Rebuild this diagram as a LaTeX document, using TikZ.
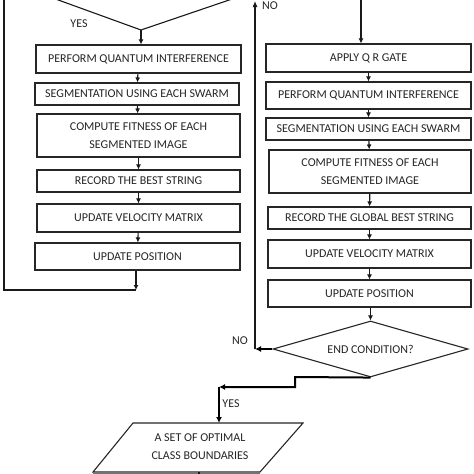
\documentclass[tikz,border=0pt]{standalone}
\usepackage{fontspec}
\setmainfont{Carlito}
\usetikzlibrary{arrows.meta,shapes.geometric}
\begin{document}
\begin{tikzpicture}[x=1pt,y=-1pt,
  box/.style={draw=black!85, line width=1.1pt, inner sep=0pt, text=black!85,
    font=\fontsize{12}{18}\selectfont, align=center},
  lab/.style={text=black!85, font=\fontsize{12}{14}\selectfont, inner sep=0pt},
  ln/.style={line width=1.1pt, draw=black!90},
  arr/.style={ln, -{Latex[length=5pt,width=5pt]}},
  heavyarr/.style={line width=2pt, draw=black, -{Latex[length=6pt,width=6pt]}},
  heavyln/.style={line width=2pt, draw=black}]
\useasboundingbox (0,0) rectangle (474,474);
\clip (0,0) rectangle (474,474);
\fill[white] (0,0) rectangle (474,474);

% top decision (cut off)
\coordinate (dtop) at (141,30);
\draw[ln] (50,-3) -- (dtop) -- (238,-3);
\node[lab] (yes1) at (79,24) {YES};

% left column
\node[box, minimum width=205pt, minimum height=28pt] (l1) at (138.5,59) {PERFORM QUANTUM INTERFERENCE};
\node[box, minimum width=204pt, minimum height=22pt] (l2) at (137,94) {SEGMENTATION USING EACH SWARM};
\node[box, minimum width=203pt, minimum height=43pt] (l3) at (138.5,135.5) {COMPUTE FITNESS OF EACH\\SEGMENTED IMAGE};
\node[box, minimum width=203pt, minimum height=22pt] (l4) at (138.5,181) {RECORD THE BEST STRING};
\node[box, minimum width=203pt, minimum height=28pt] (l5) at (138.5,218) {UPDATE VELOCITY MATRIX};
\node[box, minimum width=205pt, minimum height=27pt] (l6) at (137.5,256.5) {UPDATE POSITION};

\draw[arr] (dtop) -- (dtop |- l1.north);
\draw[arr] (l1) -- (l2);
\draw[arr] (l2) -- (l3);
\draw[arr] (l3) -- (l4);
\draw[arr] (l4) -- (l5);
\draw[arr] (l5) -- (l6);
\coordinate (jl) at (136,290);
\coordinate (cl) at (4,290);
\coordinate (tl) at (4,-5);
\draw[arr] (l6.south -| jl) -- (jl);
\draw[ln] (jl) -- (cl) -- (tl);

% right column
\node[box, minimum width=205pt, minimum height=28pt] (r1) at (368.5,58) {APPLY Q R GATE};
\node[box, minimum width=205pt, minimum height=27pt] (r2) at (368.5,95.5) {PERFORM QUANTUM INTERFERENCE};
\node[box, minimum width=205pt, minimum height=22pt] (r3) at (368.5,129) {SEGMENTATION USING EACH SWARM};
\node[box, minimum width=202pt, minimum height=43pt] (r4) at (370,171.5) {COMPUTE FITNESS OF EACH\\SEGMENTED IMAGE};
\node[box, minimum width=203pt, minimum height=22pt] (r5) at (369.5,218) {RECORD THE GLOBAL BEST STRING};
\node[box, minimum width=203pt, minimum height=28pt] (r6) at (369.5,254) {UPDATE VELOCITY MATRIX};
\node[box, minimum width=203pt, minimum height=27pt] (r7) at (369.5,293.5) {UPDATE POSITION};

\coordinate (rin) at (361,-5);
\draw[arr] (rin) -- (rin |- r1.north);
\draw[arr] (r1) -- (r2);
\draw[arr] (r2) -- (r3);
\draw[arr] (r3) -- (r4);
\draw[arr] (r4) -- (r5);
\draw[arr] (r5) -- (r6);
\draw[arr] (r6) -- (r7);

% end condition
\node[box, diamond, minimum width=195pt, minimum height=56pt, aspect=3.5] (d) at (370.5,349) {END CONDITION?};
\draw[arr] (r7.south -| d.north) -- (d.north);

% NO loop
\coordinate (nob) at (255,349);
\coordinate (not) at (255,1);
\draw[heavyarr] (d.west) -- (nob);
\draw[ln, -{Latex[length=6pt,width=5pt]}] (nob) -- (not);
\node[lab] (no1) at (270,6) {NO};
\node[lab] (no2) at (240,341) {NO};

% YES branch
\coordinate (y1) at (295,377);
\coordinate (y2) at (295,387);
\coordinate (y3) at (219,387);
\coordinate (y4) at (219,423);
\draw[heavyarr] (d.south) -- (y1) -- (y2) -- (y3);
\draw[heavyarr] (y3) -- (y4);
\node[lab] (yes2) at (231,404) {YES};

% output parallelogram
\draw[line width=1.1pt, draw=black!85] (133,423) -- (303,423) -- (260,472) -- (93,472) -- cycle;
\node[lab, align=center, font=\fontsize{12}{18}\selectfont] (out) at (200,447) {A SET OF OPTIMAL\\CLASS BOUNDARIES};
\fill[black!55] (93,471.5) rectangle (260,474);
\coordinate (ob) at (199,472);
\coordinate (oe) at (199,480);
\draw[ln] (ob) -- (oe);
\end{tikzpicture}
\end{document}
